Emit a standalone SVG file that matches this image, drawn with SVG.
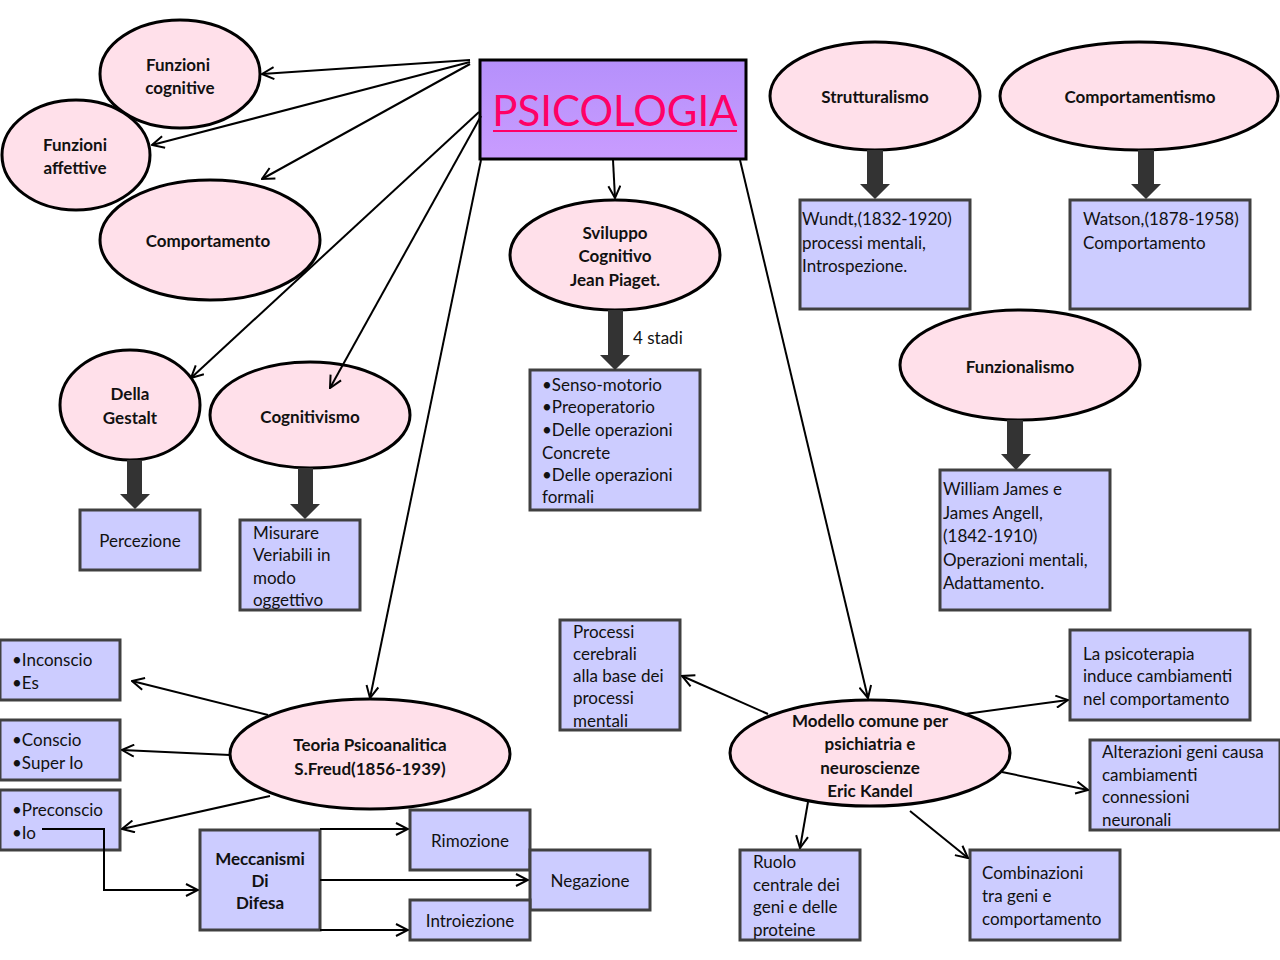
<svg xmlns="http://www.w3.org/2000/svg" width="1280" height="960" viewBox="0 0 1280 960">
<defs>
<linearGradient id="gp" x1="0" y1="0" x2="0" y2="1"><stop offset="0" stop-color="#b590fb"/><stop offset="1" stop-color="#c99cff"/></linearGradient>
<marker id="ah" markerWidth="14" markerHeight="14" refX="13" refY="7" orient="auto" markerUnits="userSpaceOnUse"><path d="M1,1 L13,7 L1,13" fill="none" stroke="#000" stroke-width="2"/></marker>
</defs>
<style>
.el{fill:#ffe0ea;stroke:#000;stroke-width:3}
.bx{fill:#ccccff;stroke:#404040;stroke-width:3}
.lb{font-family:Lato,"Open Sans",sans-serif;font-weight:bold;font-size:17px;fill:#111;text-anchor:middle}
.tx{font-family:Lato,"Open Sans",sans-serif;font-size:17px;fill:#111}
.tc{font-family:Lato,"Open Sans",sans-serif;font-size:17px;fill:#111;text-anchor:middle}
.cn{fill:none;stroke:#000;stroke-width:2}
.ba{fill:#333}
</style>
<rect width="1280" height="960" fill="#fff"/>
<g id="psicologia">
<rect x="480" y="60" width="266" height="99" fill="url(#gp)" stroke="#000" stroke-width="3"/>
<text x="615" y="126" font-family="Lato,'Open Sans',sans-serif" font-size="42" fill="#ff0066" text-anchor="middle">PSICOLOGIA</text>
<line x1="493" y1="131" x2="737" y2="131" stroke="#ff0066" stroke-width="2"/>
</g>
<g id="funzioni-cognitive"><ellipse class="el" cx="180" cy="74" rx="80" ry="54"/><text class="lb" x="178" y="71">Funzioni</text><text class="lb" x="180" y="94">cognitive</text></g>
<g id="funzioni-affettive"><ellipse class="el" cx="76" cy="155" rx="74" ry="55"/><text class="lb" x="75" y="151">Funzioni</text><text class="lb" x="75" y="174">affettive</text></g>
<g id="comportamento"><ellipse class="el" cx="210" cy="240" rx="110" ry="60"/><text class="lb" x="208" y="247">Comportamento</text></g>
<g id="gestalt"><ellipse class="el" cx="130" cy="405" rx="70" ry="55"/><text class="lb" x="130" y="400">Della</text><text class="lb" x="130" y="424">Gestalt</text></g>
<g id="cognitivismo"><ellipse class="el" cx="310" cy="415" rx="100" ry="53"/><text class="lb" x="310" y="423">Cognitivismo</text></g>
<g id="sviluppo"><ellipse class="el" cx="615" cy="255" rx="105" ry="55"/><text class="lb" x="615" y="239">Sviluppo</text><text class="lb" x="615" y="262">Cognitivo</text><text class="lb" x="615" y="286">Jean Piaget.</text></g>
<g id="strutturalismo"><ellipse class="el" cx="875" cy="96" rx="105" ry="54"/><text class="lb" x="875" y="103">Strutturalismo</text></g>
<g id="comportamentismo"><ellipse class="el" cx="1139" cy="96" rx="139" ry="54"/><text class="lb" x="1140" y="103">Comportamentismo</text></g>
<g id="funzionalismo"><ellipse class="el" cx="1020" cy="365" rx="120" ry="55"/><text class="lb" x="1020" y="373">Funzionalismo</text></g>
<g id="teoria"><ellipse class="el" cx="370" cy="754" rx="140" ry="55"/><text class="lb" x="370" y="751">Teoria Psicoanalitica</text><text class="lb" x="370" y="775">S.Freud(1856-1939)</text></g>
<g id="modello"><ellipse class="el" cx="870" cy="753" rx="140" ry="53"/><text class="lb" x="870" y="727">Modello comune per</text><text class="lb" x="870" y="750">psichiatria e</text><text class="lb" x="870" y="774">neuroscienze</text><text class="lb" x="870" y="797">Eric Kandel</text></g>
<g id="wundt"><rect class="bx" x="800" y="200" width="170" height="109"/><text class="tx" x="802" y="225">Wundt,(1832-1920)</text><text class="tx" x="802" y="249">processi mentali,</text><text class="tx" x="802" y="272">Introspezione.</text></g>
<g id="watson"><rect class="bx" x="1070" y="200" width="180" height="109"/><text class="tx" x="1083" y="225">Watson,(1878-1958)</text><text class="tx" x="1083" y="249">Comportamento</text></g>
<g id="stadi"><rect class="bx" x="530" y="370" width="170" height="140"/>
<text class="tx" x="542" y="391">•Senso-motorio</text><text class="tx" x="542" y="413">•Preoperatorio</text><text class="tx" x="542" y="436">•Delle operazioni</text><text class="tx" x="542" y="459">Concrete</text><text class="tx" x="542" y="481">•Delle operazioni</text><text class="tx" x="542" y="503">formali</text></g>
<text class="tx" x="633" y="344">4 stadi</text>
<g id="james"><rect class="bx" x="940" y="470" width="170" height="140"/><text class="tx" x="943" y="495">William James e</text><text class="tx" x="943" y="519">James Angell,</text><text class="tx" x="943" y="542">(1842-1910)</text><text class="tx" x="943" y="566">Operazioni mentali,</text><text class="tx" x="943" y="589">Adattamento.</text></g>
<g id="percezione"><rect class="bx" x="80" y="510" width="120" height="60"/><text class="tc" x="140" y="547">Percezione</text></g>
<g id="misurare"><rect class="bx" x="240" y="520" width="120" height="90"/><text class="tx" x="253" y="539">Misurare</text><text class="tx" x="253" y="561">Veriabili in</text><text class="tx" x="253" y="584">modo</text><text class="tx" x="253" y="606">oggettivo</text></g>
<g id="inconscio"><rect class="bx" x="0" y="640" width="120" height="60"/><text class="tx" x="12" y="666">•Inconscio</text><text class="tx" x="12" y="689">•Es</text></g>
<g id="conscio"><rect class="bx" x="0" y="720" width="120" height="60"/><text class="tx" x="12" y="746">•Conscio</text><text class="tx" x="12" y="769">•Super Io</text></g>
<g id="preconscio"><rect class="bx" x="0" y="790" width="120" height="60"/><text class="tx" x="12" y="816">•Preconscio</text><text class="tx" x="12" y="839">•Io</text></g>
<g id="meccanismi"><rect class="bx" x="200" y="830" width="120" height="100"/><text class="lb" x="260" y="865">Meccanismi</text><text class="lb" x="260" y="887">Di</text><text class="lb" x="260" y="909">Difesa</text></g>
<g id="rimozione"><rect class="bx" x="410" y="810" width="120" height="60"/><text class="tc" x="470" y="847">Rimozione</text></g>
<g id="negazione"><rect class="bx" x="530" y="850" width="120" height="60"/><text class="tc" x="590" y="887">Negazione</text></g>
<g id="introiezione"><rect class="bx" x="410" y="900" width="120" height="40"/><text class="tc" x="470" y="927">Introiezione</text></g>
<g id="processi"><rect class="bx" x="560" y="620" width="120" height="110"/><text class="tx" x="573" y="638">Processi</text><text class="tx" x="573" y="660">cerebrali</text><text class="tx" x="573" y="682">alla base dei</text><text class="tx" x="573" y="704">processi</text><text class="tx" x="573" y="727">mentali</text></g>
<g id="psicoterapia"><rect class="bx" x="1070" y="630" width="180" height="90"/><text class="tx" x="1083" y="660">La psicoterapia</text><text class="tx" x="1083" y="682">induce cambiamenti</text><text class="tx" x="1083" y="705">nel comportamento</text></g>
<g id="alterazioni"><rect class="bx" x="1090" y="740" width="190" height="90"/><text class="tx" x="1102" y="758">Alterazioni geni causa</text><text class="tx" x="1102" y="781">cambiamenti</text><text class="tx" x="1102" y="803">connessioni</text><text class="tx" x="1102" y="826">neuronali</text></g>
<g id="ruolo"><rect class="bx" x="740" y="850" width="120" height="90"/><text class="tx" x="753" y="868">Ruolo</text><text class="tx" x="753" y="891">centrale dei</text><text class="tx" x="753" y="913">geni e delle</text><text class="tx" x="753" y="936">proteine</text></g>
<g id="combinazioni"><rect class="bx" x="970" y="850" width="150" height="90"/><text class="tx" x="982" y="879">Combinazioni</text><text class="tx" x="982" y="902">tra geni e</text><text class="tx" x="982" y="925">comportamento</text></g>
<g id="connectors">
<line class="cn" x1="470" y1="60" x2="262" y2="74" marker-end="url(#ah)"/>
<line class="cn" x1="470" y1="62" x2="152" y2="145" marker-end="url(#ah)"/>
<line class="cn" x1="470" y1="64" x2="262" y2="179" marker-end="url(#ah)"/>
<line class="cn" x1="479" y1="112" x2="191" y2="378" marker-end="url(#ah)"/>
<line class="cn" x1="481" y1="116" x2="330" y2="388" marker-end="url(#ah)"/>
<line class="cn" x1="481" y1="160" x2="370" y2="698" marker-end="url(#ah)"/>
<line class="cn" x1="613" y1="160" x2="615" y2="198" marker-end="url(#ah)"/>
<line class="cn" x1="740" y1="160" x2="868" y2="698" marker-end="url(#ah)"/>
<line class="cn" x1="268" y1="715" x2="132" y2="681" marker-end="url(#ah)"/>
<line class="cn" x1="230" y1="755" x2="122" y2="750" marker-end="url(#ah)"/>
<line class="cn" x1="270" y1="796" x2="122" y2="829" marker-end="url(#ah)"/>
<polyline class="cn" points="42,829 104,829 104,890 198,890" marker-end="url(#ah)"/>
<line class="cn" x1="320" y1="829" x2="408" y2="829" marker-end="url(#ah)"/>
<line class="cn" x1="320" y1="880" x2="528" y2="880" marker-end="url(#ah)"/>
<line class="cn" x1="320" y1="930" x2="408" y2="930" marker-end="url(#ah)"/>
<line class="cn" x1="768" y1="714" x2="682" y2="676" marker-end="url(#ah)"/>
<line class="cn" x1="965" y1="714" x2="1068" y2="700" marker-end="url(#ah)"/>
<line class="cn" x1="1002" y1="772" x2="1088" y2="790" marker-end="url(#ah)"/>
<line class="cn" x1="808" y1="802" x2="800" y2="848" marker-end="url(#ah)"/>
<line class="cn" x1="910" y1="811" x2="968" y2="858" marker-end="url(#ah)"/>
<polygon class="ba" points="867,150 883,150 883,184 890,184 875,199 860,184 867,184"/>
<polygon class="ba" points="1138,150 1154,150 1154,184 1161,184 1146,199 1131,184 1138,184"/>
<polygon class="ba" points="608,310 623,310 623,355 630,355 615,370 600,355 608,355"/>
<polygon class="ba" points="127,460 142,460 142,494 150,494 135,509 120,494 127,494"/>
<polygon class="ba" points="298,468 313,468 313,504 320,504 305,519 290,504 298,504"/>
<polygon class="ba" points="1007,420 1023,420 1023,454 1031,454 1016,470 1001,454 1007,454"/>
</g>
</svg>
